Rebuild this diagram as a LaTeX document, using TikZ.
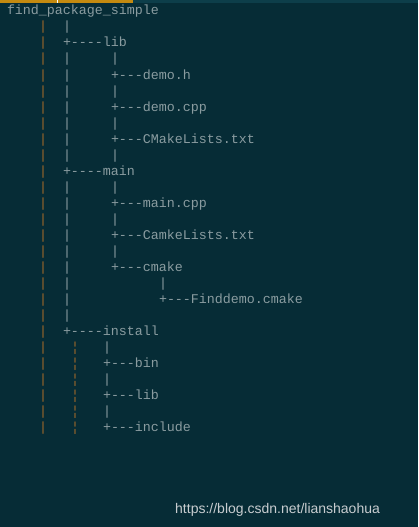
\documentclass[tikz,border=0pt]{standalone}
\usepackage{fontspec}
\setmonofont{Liberation Mono}
\setsansfont{Liberation Sans}
\definecolor{bgc}{HTML}{062C36}
\definecolor{txt}{HTML}{8A9CA0}
\definecolor{guide}{HTML}{A0692A}
\definecolor{topo}{HTML}{C48A10}
\definecolor{topl}{HTML}{0D3E4A}
\definecolor{wm}{HTML}{C8CDD0}
\begin{document}
\begin{tikzpicture}[x=1pt,y=-1pt,
  tt/.style={anchor=base west,inner sep=0pt,outer sep=0pt,text=txt,font=\fontsize{13.33}{13.33}\selectfont\ttfamily},
  gd/.style={tt,text=guide}]
\fill[bgc] (0,0) rectangle (418,527);
\useasboundingbox (0,0) rectangle (418,527);
\fill[topl] (133,0) rectangle (418,3);
\fill[topo] (0,0) rectangle (133,3);
\fill[white] (56.5,0) rectangle (58,3);
% row r baseline = 15+16r, column c x = 7+8c
\node[tt] (root) at (7,15) {find\_package\_simple};
% orange indent guide, column 4
\foreach \r in {1,...,26} \node[gd] (g\r) at (39,15+16*\r) {|};
% dashed guide column 8
\foreach \r in {21,...,26} \node[gd] (h\r) at (71,15+16*\r) {¦};
% column 7 bars
\foreach \r in {1,3,4,5,6,7,8,9,11,12,13,14,15,16,17,18,19} \node[tt] (a\r) at (63,15+16*\r) {|};
\node[tt] (lib) at (63,47) {+----lib};
\node[tt] (main) at (63,175) {+----main};
\node[tt] (install) at (63,335) {+----install};
% column 13 bars
\foreach \r in {3,5,7,9,11,13,15} \node[tt] (b\r) at (111,15+16*\r) {|};
\node[tt] (demoh) at (111,79) {+---demo.h};
\node[tt] (democpp) at (111,111) {+---demo.cpp};
\node[tt] (cml) at (111,143) {+---CMakeLists.txt};
\node[tt] (maincpp) at (111,207) {+---main.cpp};
\node[tt] (cml2) at (111,239) {+---CamkeLists.txt};
\node[tt] (cmake) at (111,271) {+---cmake};
% column 19
\node[tt] (c17) at (159,287) {|};
\node[tt] (find) at (159,303) {+---Finddemo.cmake};
% column 12
\foreach \r in {21,23,25} \node[tt] (d\r) at (103,15+16*\r) {|};
\node[tt] (bin) at (103,367) {+---bin};
\node[tt] (ilib) at (103,399) {+---lib};
\node[tt] (inc) at (103,431) {+---include};
% watermark
\node[anchor=base west,inner sep=0pt,text=wm,font=\fontsize{14}{14}\selectfont\sffamily] (wmk) at (175,513) {https://blog.csdn.net/lianshaohua};
\end{tikzpicture}
\end{document}
